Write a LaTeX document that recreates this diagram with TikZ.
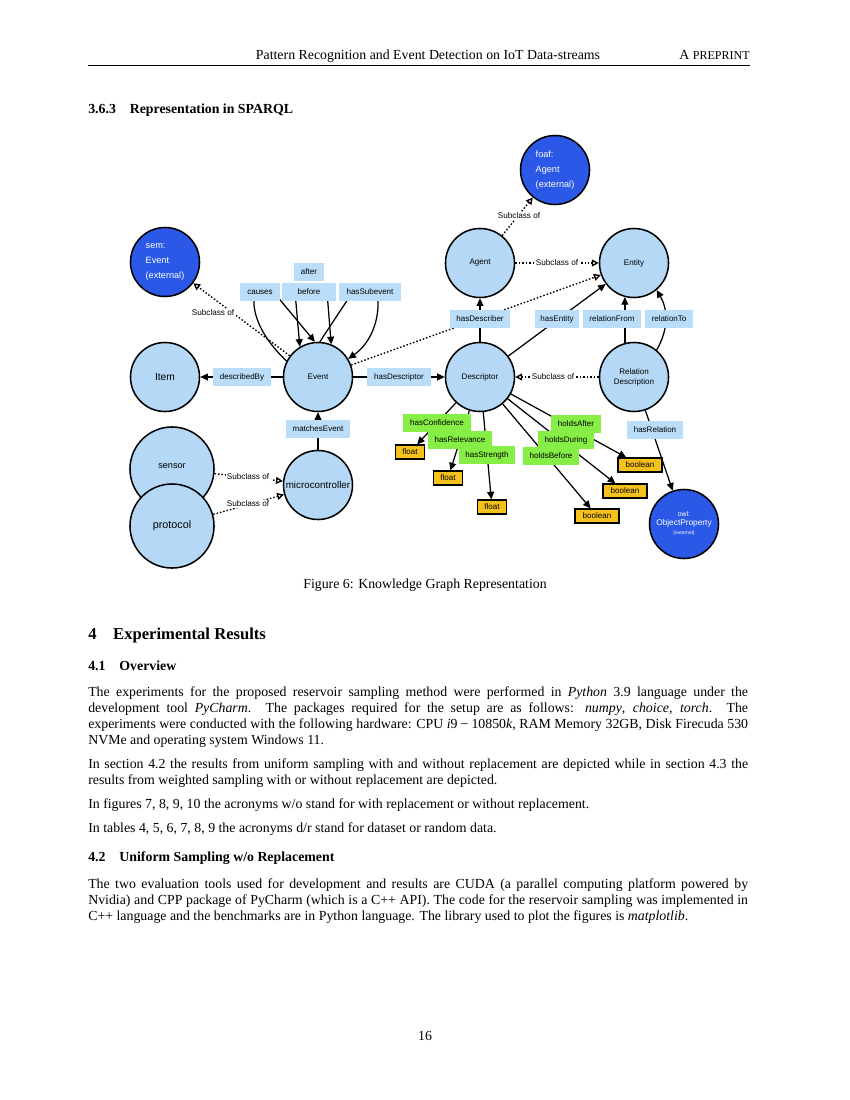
\documentclass[tikz,border=0pt]{standalone}
\usepackage{fontspec}
\setmainfont{Liberation Serif}
\newfontfamily\dgf{Liberation Sans}
\usetikzlibrary{arrows.meta,calc}
\definecolor{circblue}{HTML}{B4D8F5}
\definecolor{lblblue}{HTML}{BADDFA}
\definecolor{darkblue}{HTML}{2B58E6}
\definecolor{lgreen}{HTML}{86EE44}
\definecolor{dyellow}{HTML}{F4C21A}
\pgfdeclarelayer{bg}
\pgfdeclarelayer{edgelayer}
\pgfsetlayers{bg,edgelayer,main}
\tikzset{
 cls/.style={circle, draw=black, line width=1.1pt, fill=circblue, minimum size=0.69in, inner sep=0pt, align=center, font=\dgf\fontsize{5.8}{7.2}\selectfont},
 ext/.style={cls, fill=darkblue, text=white, align=left, font=\dgf\fontsize{6.6}{11}\selectfont},
 lbl/.style={fill=lblblue, inner sep=0pt, minimum height=13.7pt, font=\dgf\fontsize{5.8}{7}\selectfont},
 glbl/.style={fill=lgreen, inner sep=0pt, minimum height=12.4pt, font=\dgf\fontsize{5.8}{7}\selectfont},
 typ/.style={fill=dyellow, draw=black, line width=1pt, inner sep=0pt, minimum height=10pt, font=\dgf\fontsize{5.8}{7}\selectfont},
 sub/.style={fill=white, inner sep=1pt, font=\dgf\fontsize{5.9}{7}\selectfont},
 rel/.style={line width=0.9pt, -{Triangle[length=5.5pt,width=5pt]}},
 isa/.style={line width=1pt, dash pattern=on 1.1pt off 1.4pt, -{Triangle[open,length=5pt,width=5pt,fill=white]}},
 bodytext/.style={anchor=base west, inner sep=0pt, font=\fontsize{10}{12}\selectfont},
}
\newcommand{\jline}[1]{\makebox[476.6pt][s]{#1}}
\begin{document}
\begin{tikzpicture}[x=0.01in, y=-0.01in]
\begin{pgfonlayer}{bg}
\fill[white] (0,0) rectangle (850,1100);
\end{pgfonlayer}
\useasboundingbox (0,0) rectangle (850,1100);

% header
\node[anchor=base, inner sep=0pt, font=\fontsize{10}{12}\selectfont] (hdr) at (428,59.5) {Pattern Recognition and Event Detection on IoT Data-streams};
\node[anchor=base east, inner sep=0pt, font=\fontsize{10}{12}\selectfont] (prep) at (750,59.5) {A {\fontsize{8.7}{10}\selectfont PREPRINT}};
\draw[line width=0.4pt] (88,65) -- (750,65);

\node[bodytext, font=\fontsize{10}{12}\selectfont\bfseries] (s363) at (88,114) {3.6.3\quad Representation in SPARQL};

% ---------- diagram: classes ----------
\node[ext] (foaf) at (555,170) {foaf:\\Agent\\(external)};
\node[ext] (semev) at (165,262) {sem:\\Event\\(external)};
\node[cls] (agent) at (480,263) {Agent};
\node[cls] (entity) at (634,263) {Entity};
\node[cls, font=\dgf\fontsize{7.4}{9}\selectfont] (item) at (165,377) {Item};
\node[cls] (event) at (318,377) {Event};
\node[cls] (desc) at (480,377) {Descriptor};
\node[cls] (reldesc) at (634,377) {Relation\\Description};
\node[cls, font=\dgf\fontsize{7.1}{9}\selectfont] (micro) at (318,485) {microcontroller};
\node[cls, minimum size=0.84in, font=\dgf\fontsize{6.6}{8}\selectfont] (sensor) at (172,469) {\raisebox{4pt}{sensor}};
\node[cls, minimum size=0.84in, font=\dgf\fontsize{7.8}{9}\selectfont] (protocol) at (172,526) {protocol};
\node[cls, fill=darkblue, text=white, font=\dgf\fontsize{6}{6.5}\selectfont] (owl) at (684,524) {{\fontsize{5}{6}\selectfont owl:}\\ObjectProperty\\{\fontsize{3.6}{4}\selectfont (external)}};

% datatypes
\node[typ, minimum width=21pt] (f1) at (410,452) {float};
\node[typ, minimum width=21pt] (f2) at (448,478) {float};
\node[typ, minimum width=21pt] (f3) at (492,507) {float};
\node[typ, minimum width=31.7pt] (b1) at (640,465) {boolean};
\node[typ, minimum width=31.7pt] (b2) at (625,491) {boolean};
\node[typ, minimum width=31.7pt] (b3) at (597,516) {boolean};

% property labels (blue)
\node[lbl, minimum width=21.6pt] (after) at (309,272) {after};
\node[lbl, minimum width=28.8pt] (causes) at (260,292) {causes};
\node[lbl, minimum width=39.6pt] (before) at (309,292) {before};
\node[lbl, minimum width=44.6pt] (hassub) at (370,292) {hasSubevent};
\node[lbl, minimum width=44pt] (hasdescr) at (480,319) {hasDescriber};
\node[lbl, minimum width=32.4pt] (hasent) at (557,319) {hasEntity};
\node[lbl, minimum width=42.5pt] (relfrom) at (612,319) {relationFrom};
\node[lbl, minimum width=35.3pt] (relto) at (669,319) {relationTo};
\node[lbl, minimum width=41.8pt] (descby) at (242,377) {describedBy};
\node[lbl, minimum width=46pt] (hasdesc) at (399,377) {hasDescriptor};
\node[lbl, minimum width=46pt] (matches) at (318,429) {matchesEvent};
\node[lbl, minimum width=40.3pt] (hasrel) at (655,430) {hasRelation};

% property labels (green)
\node[glbl, minimum width=49.7pt] (hasconf) at (437,423) {hasConfidence};
\node[glbl, minimum width=46.8pt] (hasrelev) at (460,440) {hasRelevance};
\node[glbl, minimum width=41pt] (hasstr) at (487,455) {hasStrength};
\node[glbl, minimum width=36pt] (hafter) at (576,424) {holdsAfter};
\node[glbl, minimum width=40.3pt] (hduring) at (566,440) {holdsDuring};
\node[glbl, minimum width=41pt] (hbefore) at (551,456) {holdsBefore};

% subclass labels
\node[sub] (sc1) at (519,216) {Subclass of};
\node[sub] (sc2) at (557,263) {Subclass of};
\node[sub] (sc3) at (213,313) {Subclass of};
\node[sub] (sc4) at (553,377) {Subclass of};
\node[sub] (sc5) at (248,477) {Subclass of};
\node[sub] (sc6) at (248,504) {Subclass of};

% ---------- edges ----------
\begin{pgfonlayer}{edgelayer}
\draw[rel] (desc) -- (f1);
\draw[rel] (desc) -- (f2);
\draw[rel] (desc) -- (f3);
\draw[rel] (desc) -- (b1);
\draw[rel] (desc) -- (b2);
\draw[rel] (desc) -- (b3);
\draw[rel] (reldesc) -- (owl);
\draw[rel] (desc) -- (agent);
\draw[rel] (desc) -- (entity);
\draw[rel] (reldesc.105) -- (entity.255);
\draw[rel] (reldesc.50) to[bend right=30] (entity.-50);
\draw[rel] (event) -- (item);
\draw[rel] (event) -- (desc);
\draw[rel] (micro) -- (event);
% self-loops of Event (turns hidden under the labels)
\draw[rel] (event.153) .. controls (262,338) and (250,312) .. (255,292)
   .. controls (260,286) and (270,288) .. (276,295) -- (event.95);
\draw[rel] ($(before.center)+(-14,0)$) -- (event.121);
\draw[rel] ($(before.center)+(18,0)$) -- (event.68);
\draw[rel] (event.87) -- (352,293) .. controls (362,284) and (378,286) .. (378,300)
   .. controls (379,325) and (368,345) .. (event.31);
\draw[isa] (agent) -- (foaf);
\draw[isa] (agent) -- (entity);
\draw[isa] (event) -- (entity);
\draw[isa] (event) -- (semev);
\draw[isa] (reldesc) -- (desc);
\draw[isa] (sensor) -- (micro);
\draw[isa] (protocol) -- (micro);
\end{pgfonlayer}

% caption
\node[anchor=base, inner sep=0pt, font=\fontsize{10}{12}\selectfont] (cap) at (425,588) {Figure 6: Knowledge Graph Representation};

% section 4
\node[bodytext, font=\fontsize{12}{14}\selectfont\bfseries] (s4) at (88,639) {4\quad Experimental Results};
\node[bodytext, font=\fontsize{10}{12}\selectfont\bfseries] (s41) at (88,670) {4.1\quad Overview};

\node[bodytext] (p1a) at (88,696.5) {\jline{The experiments for the proposed reservoir sampling method were performed in \textit{Python} 3.9 language under the}};
\node[bodytext] (p1b) at (88,712.5) {\jline{development tool \textit{PyCharm}. The packages required for the setup are as follows: \textit{numpy}, \textit{choice}, \textit{torch}. The}};
\node[bodytext] (p1c) at (88,728.5) {\jline{experiments were conducted with the following hardware: CPU \textit{i}9\hspace{2.2pt}−\hspace{2.2pt}10850\textit{k}, RAM Memory 32GB, Disk Firecuda 530}};
\node[bodytext] (p1d) at (88,744.5) {NVMe and operating system Windows 11.};

\node[bodytext] (p2a) at (88,768.5) {\jline{In section 4.2 the results from uniform sampling with and without replacement are depicted while in section 4.3 the}};
\node[bodytext] (p2b) at (88,784.5) {results from weighted sampling with or without replacement are depicted.};

\node[bodytext] (p3) at (88,808.5) {In figures 7, 8, 9, 10 the acronyms w/o stand for with replacement or without replacement.};
\node[bodytext] (p4) at (88,832.5) {In tables 4, 5, 6, 7, 8, 9 the acronyms d/r stand for dataset or random data.};

\node[bodytext, font=\fontsize{10}{12}\selectfont\bfseries] (s42) at (88,861.5) {4.2\quad Uniform Sampling w/o Replacement};

\node[bodytext] (p5a) at (88,888.5) {\jline{The two evaluation tools used for development and results are CUDA (a parallel computing platform powered by}};
\node[bodytext] (p5b) at (88,904.5) {\jline{Nvidia) and CPP package of PyCharm (which is a C++ API). The code for the reservoir sampling was implemented in}};
\node[bodytext] (p5c) at (88,920.5) {C++ language and the benchmarks are in Python language. The library used to plot the figures is \textit{matplotlib}.};

\node[anchor=base, inner sep=0pt, font=\fontsize{10}{12}\selectfont] (pg) at (425,1040) {16};
\end{tikzpicture}
\end{document}
